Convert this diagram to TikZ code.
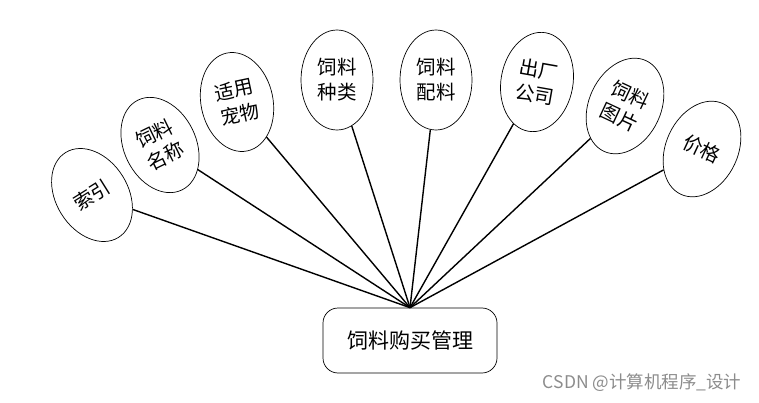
\documentclass[tikz,border=0pt]{standalone}
\usepackage{fontspec}
\newfontfamily\cjk{Noto Sans CJK SC}
\usetikzlibrary{shapes.geometric}
\begin{document}
\begin{tikzpicture}[x=1pt,y=-1pt,
  attr/.style={draw,ellipse,line width=0.7pt,minimum width=72pt,minimum height=100pt,inner sep=0pt,align=center,font=\cjk\fontsize{19.5}{25}\selectfont},
  conn/.style={line width=1.4pt}]
\useasboundingbox (0,0) rectangle (759,403);
\node[draw,rounded corners=15pt,line width=0.7pt,minimum width=174pt,minimum height=65pt,font=\cjk\fontsize{21}{24}\selectfont] (box) at (410,340.5) {饲料购买管理};
\node[attr,rotate=32] (e1) at (92,195) {索引};
\node[attr,rotate=26] (e2) at (160,145) {饲料\\名称};
\node[attr,rotate=12] (e3) at (237,102) {适用\\宠物};
\node[attr] (e4) at (337,80) {饲料\\种类};
\node[attr] (e5) at (436,80) {饲料\\配料};
\node[attr,rotate=-10] (e6) at (537,82) {出厂\\公司};
\node[attr,rotate=-25] (e7) at (625,106) {饲料\\图片};
\node[attr,rotate=-25] (e8) at (702,149) {价格};
\foreach \i in {1,...,8} \draw[conn] (box.north) -- (e\i);
\node[anchor=east,text=black!45,font=\cjk\fontsize{17.5}{20}\selectfont] (wm) at (745,383) {CSDN @计算机程序\_设计};
\end{tikzpicture}
\end{document}
